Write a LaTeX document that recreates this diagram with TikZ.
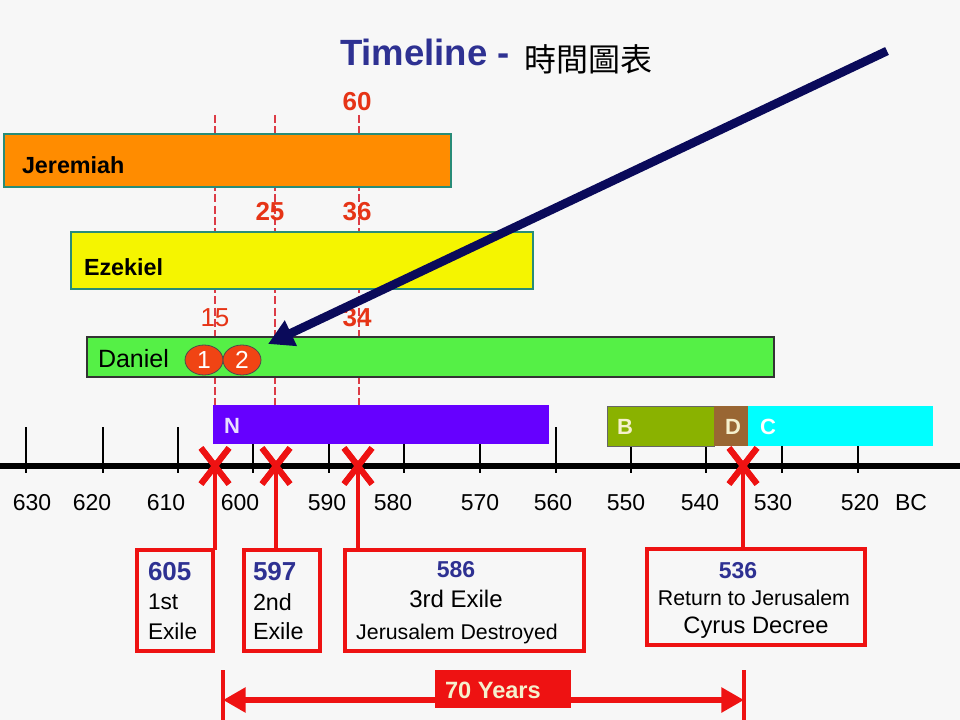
\documentclass[tikz,border=0pt]{standalone}
\usepackage{fontspec}
\setmainfont{Liberation Sans}
\newfontfamily\cjkfont{Noto Sans CJK TC}
\usetikzlibrary{arrows.meta,shapes.geometric,shapes.misc}
\definecolor{cbg}{RGB}{247,247,247}
\definecolor{cnavy}{RGB}{46,49,146}
\definecolor{cnum}{RGB}{230,52,22}
\definecolor{corange}{RGB}{255,140,0}
\definecolor{cteal}{RGB}{40,140,120}
\definecolor{cyellow}{RGB}{245,245,0}
\definecolor{cgreen}{RGB}{85,240,70}
\definecolor{ccirc}{RGB}{240,68,20}
\definecolor{carrow}{RGB}{10,10,90}
\definecolor{cpurple}{RGB}{102,0,255}
\definecolor{cntext}{RGB}{232,222,255}
\definecolor{colive}{RGB}{138,178,0}
\definecolor{cbrown}{RGB}{153,102,51}
\definecolor{ccyan}{RGB}{0,255,255}
\definecolor{ccream}{RGB}{245,240,205}
\definecolor{cred}{RGB}{238,18,18}
\definecolor{cdash}{RGB}{220,60,70}
\newcommand\fsz[1]{\fontsize{#1}{#1}\selectfont}
\begin{document}
\begin{tikzpicture}[x=0.75pt,y=-0.75pt,
  txt/.style={inner sep=0pt,outer sep=0pt},
  box/.style 2 args={anchor=north west,inner sep=0pt,outer sep=0pt,
    minimum width=#1*0.75pt,minimum height=#2*0.75pt},
  bar/.style={draw=cteal,line width=1.6pt},
  numlbl/.style={txt,text=cnum,font=\fsz{19.5pt}\bfseries},
  barlbl/.style={txt,anchor=west,font=\fsz{17.5pt}\bfseries},
  seglbl/.style={txt,font=\fsz{16.5pt}\bfseries},
  yearlbl/.style={txt,font=\fsz{17.25pt}},
  dashline/.style={cdash,line width=0.8pt,dash pattern=on 6pt off 2.5pt},
  tickline/.style={black,line width=1.1pt},
  xmark/.style={cross out,draw=cred,line width=4.5pt,minimum width=16.5pt,
    minimum height=22.5pt,inner sep=0pt},
  redline/.style={cred,line width=3pt},
  redbox/.style={draw=cred,line width=2.6pt},
  circ/.style={ellipse,draw=black!70,line width=0.6pt,fill=ccirc,text=white,
    minimum width=28.5pt,minimum height=22.5pt,inner sep=0pt,font=\fsz{18.5pt}}
]
\fill[cbg] (0,0) rectangle (960,720);
\useasboundingbox (0,0) rectangle (960,720);

% title
\node[txt,anchor=west,text=cnavy,font=\fsz{27.4pt}\bfseries] (title) at (340,52.5) {Timeline -};
\node[txt,anchor=west,font=\fsz{24pt}\cjkfont] (titlecjk) at (524,59) {時間圖表};

% dashed reference lines
\foreach \x in {215,275,359} \draw[dashline] (\x,115) -- (\x,405);

% ticks
\foreach \x in {26,103,178,253,329,404,480,556,631,706,782,858}
  \draw[tickline] (\x,427) -- (\x,473);

% bars
\node[box={447}{53},bar,fill=corange] (jer) at (4,134) {};
\node[barlbl] (jerl) at (22,165) {Jeremiah};
\node[box={462}{57},bar,fill=cyellow] (eze) at (71,232) {};
\node[barlbl] (ezel) at (84,267) {Ezekiel};
\node[box={687}{40},draw=black!80,line width=0.8pt,fill=cgreen] (dan) at (87,337) {};
\node[txt,anchor=west,font=\fsz{18.75pt}] (danl) at (98,359) {Daniel};
\node[circ] (c1) at (204,360) {1};
\node[circ] (c2) at (242,360) {2};

\node[box={336}{39},fill=cpurple] (nbar) at (213,405) {};
\node[seglbl,text=cntext] (nl) at (232,426) {N};
\node[box={107}{40},fill=colive,draw=black!60,line width=0.5pt] (bbar) at (607,406) {};
\node[seglbl,text=ccream] (bl) at (625,427) {B};
\node[box={34}{40},fill=cbrown] (dbar) at (714,406) {};
\node[seglbl,text=ccream] (dl) at (733,427) {D};
\node[box={185}{40},fill=ccyan] (cbar) at (748,406) {};
\node[seglbl,text=white] (cl) at (768,427) {C};

% red numbers
\node[numlbl] (n60) at (357,102) {60};
\node[numlbl] (n25) at (270,212) {25};
\node[numlbl] (n36) at (357,212) {36};
\node[txt,text=cnum,font=\fsz{19.5pt}] (n15) at (215,318) {15};
\node[numlbl] (n34) at (357,318) {34};

% blue arrow
\coordinate (astart) at (887,51);
\coordinate (atip) at (268,344);
\draw[carrow,line width=6.5pt,-{Triangle[length=19pt,width=20pt]}] (astart) -- (atip);

% axis
\draw[black,line width=4.5pt] (0,466) -- (960,466);

% year labels
\foreach \x/\t in {32/630,92/620,166/610,240/600,327/590,393/580,480/570,553/560,626/550,700/540,773/530,860/520,911/BC}
  \node[yearlbl] (y\t) at (\x,502.5) {\t};

% event boxes
\node[box={76}{101},redbox] (b1) at (137,550) {};
\node[box={76}{101},redbox] (b2) at (244,550) {};
\node[box={239}{101},redbox] (b3) at (345,550) {};
\node[box={218}{96},redbox] (b4) at (647,549) {};

% X marks and connectors
\node[xmark] (x1) at (215,466) {};
\node[xmark] (x2) at (276,466) {};
\node[xmark] (x3) at (358,466) {};
\node[xmark] (x4) at (743,466) {};
\draw[redline] (x1.center) -- (x1.center |- b1.north);
\draw[redline] (x2.center) -- (x2.center |- b2.north);
\draw[redline] (x3.center) -- (x3.center |- b3.north);
\draw[redline] (x4.center) -- (x4.center |- b4.north);
\node[xmark] at (x1) {};
\node[xmark] at (x2) {};
\node[xmark] at (x3) {};
\node[xmark] at (x4) {};

% box texts
\node[txt,anchor=west,text=cnavy,font=\fsz{19.5pt}\bfseries] (t605) at (148,572) {605};
\node[txt,anchor=west,font=\fsz{17pt}] (t1st) at (148,602) {1st};
\node[txt,anchor=west,font=\fsz{17pt}] (tex1) at (148,631) {Exile};
\node[txt,anchor=west,text=cnavy,font=\fsz{19.5pt}\bfseries] (t597) at (253,572) {597};
\node[txt,anchor=west,font=\fsz{17.5pt}] (t2nd) at (253,602) {2nd};
\node[txt,anchor=west,font=\fsz{17.5pt}] (tex2) at (253,631) {Exile};
\node[txt,text=cnavy,font=\fsz{17.25pt}\bfseries] (t586) at (456,570) {586};
\node[txt,font=\fsz{18pt}] (t3rd) at (456,599) {3rd Exile};
\node[txt,anchor=base,font=\fsz{16pt}] (tjd) at (457,639) {Jerusalem Destroyed};
\node[txt,text=cnavy,font=\fsz{17.25pt}\bfseries] (t536) at (738,571) {536};
\node[txt,font=\fsz{16pt}] (tret) at (754,598) {Return to Jerusalem};
\node[txt,anchor=base,font=\fsz{17.8pt}] (tcyr) at (756,633) {Cyrus Decree};

% 70 years
\coordinate (ltop) at (223,670);
\coordinate (lbot) at (223,720);
\coordinate (rtop) at (744,670);
\coordinate (rbot) at (744,720);
\draw[redline] (ltop) -- (lbot);
\draw[redline] (rtop) -- (rbot);
\coordinate (aleft) at (223,700);
\coordinate (aright) at (744,700);
\draw[cred,line width=4.5pt,{Triangle[length=17pt,width=18pt]}-{Triangle[length=17pt,width=18pt]}] (aleft) -- (aright);
\node[box={136}{38},fill=cred] (yrsbox) at (435,670) {};
\node[txt,anchor=west,text=ccream,font=\fsz{17.7pt}\bfseries] (yrs) at (445,690) {70 Years};
\end{tikzpicture}
\end{document}
